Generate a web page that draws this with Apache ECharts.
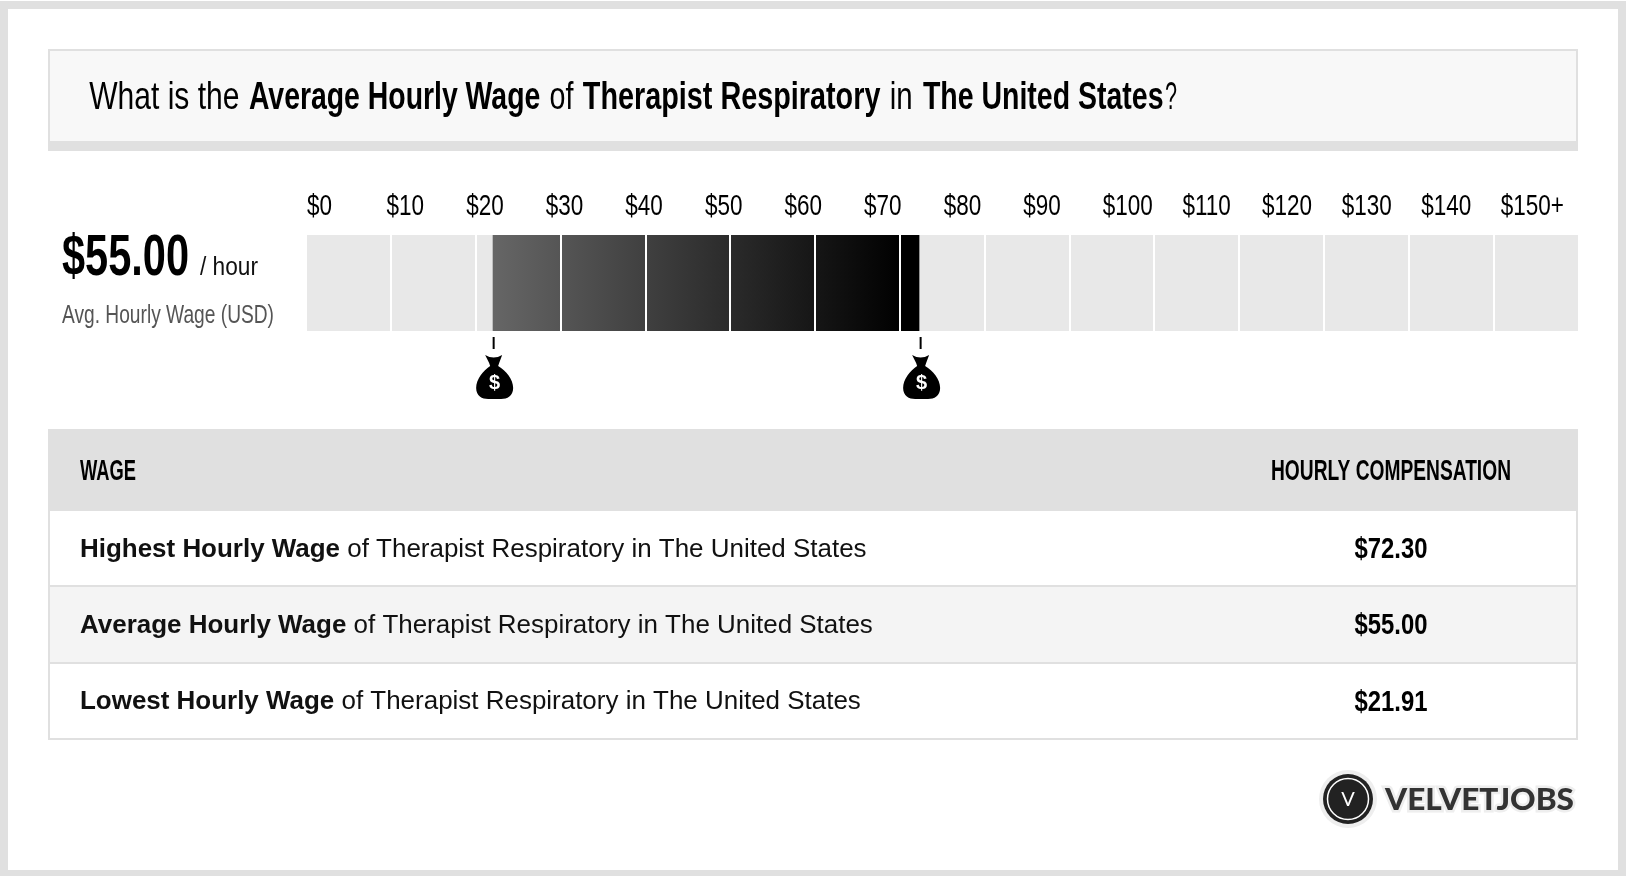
<!DOCTYPE html>
<html>
<head>
<meta charset="utf-8">
<style>html,body{margin:0;padding:0;background:#fff}#chart{width:1626px;height:876px}</style>
<script src="https://cdn.jsdelivr.net/npm/echarts@6/dist/echarts.min.js"></script>
</head>
<body>
<div id="chart"></div>
<script>
var tickLabels = ['$0','$10','$20','$30','$40','$50','$60','$70','$80','$90','$100','$110','$120','$130','$140','$150+'];
var axisMax = 150;
var lowWage = 21.91;
var avgWage = 55.00;
var highWage = 72.30;
var rowNames = ['Highest Hourly Wage','Average Hourly Wage','Lowest Hourly Wage'];
var rowValues = [highWage, avgWage, lowWage];
var rowTail = ' of Therapist Respiratory in The United States';
var titleRuns = ['What is the','Average Hourly Wage','of','Therapist Respiratory','in','The United States','?'];

var SANS = '"Liberation Sans",Arial,sans-serif';
var BAG = 'path://M9 0 Q17.5 5 26 0 L23 8 L22 11 C30 16 37 24 37 33 C37 41 31 44 25 44 L12 44 C6 44 0 41 0 33 C0 24 7 16 14 11 L13 8 Z';

var chart = echarts.init(document.getElementById('chart'), null, {renderer: 'canvas'});
var measure = document.createElement('canvas').getContext('2d');

function rect(x, y, w, h, fill, z) {
  return {type: 'rect', z: z || 0, silent: true, shape: {x: x, y: y, width: w, height: h}, style: {fill: fill}};
}
// no condensed face is installed, so condensed text is squeezed to the width it has in the picture
function label(x, y, text, font, fill, opt) {
  opt = opt || {};
  measure.font = font;
  var sx = opt.w ? opt.w / measure.measureText(text).width : (opt.sx || 1);
  return {
    type: 'text', x: x, y: y, z: 3, silent: true, scaleX: sx,
    style: {text: text, font: font, fill: fill, textAlign: opt.align || 'left', textVerticalAlign: 'middle',
      rich: opt.rich, stroke: opt.stroke, lineWidth: opt.lw}
  };
}

var N39 = '39px ' + SANS, B39 = 'bold 39px ' + SANS;
var graphics = [
  // outer frame
  rect(0, 1, 1626, 8, '#e0e0e0'), rect(0, 870, 1626, 6, '#e0e0e0'),
  rect(0, 1, 8, 875, '#e0e0e0'), rect(1618, 1, 8, 875, '#e0e0e0'),
  // title panel
  rect(48, 49, 1530, 102, '#e0e0e0'), rect(50, 51, 1526, 90, '#f8f8f8', 1),
  label(89.2, 98, titleRuns[0], N39, '#000', {w: 150.3}),
  label(248.9, 98, titleRuns[1], B39, '#000', {w: 291.4}),
  label(549.6, 98, titleRuns[2], N39, '#000', {w: 23.9}),
  label(582.8, 98, titleRuns[3], B39, '#000', {w: 297.6}),
  label(889.7, 98, titleRuns[4], N39, '#000', {w: 22.9}),
  label(922.9, 98, titleRuns[5], B39, '#000', {w: 240.6}),
  label(1165, 98, titleRuns[6], N39, '#000', {w: 12}),
  // headline figure
  label(62, 259, '$' + avgWage.toFixed(2), 'bold 57px ' + SANS, '#000', {w: 127}),
  label(200, 268, '/ hour', '25px ' + SANS, '#111', {w: 58}),
  label(62, 316, 'Avg. Hourly Wage (USD)', '26px ' + SANS, '#555', {w: 212}),
  // table
  rect(48, 429, 1530, 311, '#e0e0e0'),
  rect(50, 511, 1526, 74, '#fff', 1), rect(50, 587, 1526, 75, '#f4f4f4', 1), rect(50, 664, 1526, 74, '#fff', 1),
  label(80, 472, 'WAGE', 'bold 29px ' + SANS, '#000', {w: 56}),
  label(1391, 472, 'HOURLY COMPENSATION', 'bold 29px ' + SANS, '#000', {align: 'center', w: 240}),
  // logo
  {type: 'circle', z: 3, silent: true, shape: {cx: 1348, cy: 799, r: 29}, style: {fill: '#eee'}},
  {type: 'circle', z: 3, silent: true, shape: {cx: 1348, cy: 799, r: 25}, style: {fill: '#222'}},
  {type: 'circle', z: 3, silent: true, shape: {cx: 1348, cy: 799, r: 20.5}, style: {fill: 'none', stroke: '#fff', lineWidth: 1.5}},
  label(1348, 800, 'V', '20px Lato', '#fff', {align: 'center'}),
  label(1385, 800, 'VELVETJOBS', '900 31px Lato', '#333', {w: 189, stroke: '#eee', lw: 5})
];

rowNames.forEach(function (name, i) {
  var y = [550, 625.5, 702][i];
  graphics.push(label(80, y, '{b|' + name + '}{n|' + rowTail + '}', '25.96px ' + SANS, '#111', {
    rich: {
      b: {font: 'bold 25.96px ' + SANS, fill: '#111'},
      n: {font: '25.96px ' + SANS, fill: '#111'}
    }
  }));
  graphics.push(label(1391, [550, 626, 703][i], '$' + rowValues[i].toFixed(2), 'bold 30px ' + SANS, '#000', {align: 'center', sx: 0.795}));
});

var option = {
  animation: false,
  graphic: graphics,
  grid: [
    {left: 307, width: 1271, top: 235, height: 96},
    {left: 307, width: 1271, top: 337, height: 62},
    {left: 306, width: 1272.3, top: 235, height: 96}
  ],
  xAxis: [
    {type: 'value', gridIndex: 0, min: 0, max: axisMax, show: false},
    {
      // the printed scale has its own even spacing, one slot per label
      type: 'value', gridIndex: 0, position: 'top', min: 0, max: 15.97, interval: 1,
      axisLine: {show: false}, axisTick: {show: false}, splitLine: {show: false}, axisLabel: {show: false}
    },
    {type: 'value', gridIndex: 1, min: 0, max: axisMax, show: false},
    {
      // white gaps between the cells sit on top of the bar, on each cell's right edge
      type: 'value', gridIndex: 2, min: 0, max: axisMax, interval: 10, z: 5,
      axisLine: {show: false}, axisTick: {show: false}, axisLabel: {show: false},
      splitLine: {show: true, showMinLine: false, showMaxLine: false, lineStyle: {color: '#fff', width: 2}}
    }
  ],
  yAxis: [
    {type: 'category', gridIndex: 0, data: ['wage'], show: false},
    {type: 'value', gridIndex: 1, min: 0, max: 62, inverse: true, show: false},
    {type: 'value', gridIndex: 2, show: false}
  ],
  series: [
    {type: 'bar', stack: 'w', xAxisIndex: 0, yAxisIndex: 0, barWidth: '100%', data: [lowWage], itemStyle: {color: '#e8e8e8'}},
    {
      type: 'bar', stack: 'w', xAxisIndex: 0, yAxisIndex: 0, barWidth: '100%', data: [highWage - lowWage],
      itemStyle: {color: new echarts.graphic.LinearGradient(0, 0, 1, 0, [
        {offset: 0, color: '#666'}, {offset: 0.96, color: '#000'}, {offset: 1, color: '#000'}
      ])}
    },
    {type: 'bar', stack: 'w', xAxisIndex: 0, yAxisIndex: 0, barWidth: '100%', data: [axisMax - highWage], itemStyle: {color: '#e8e8e8'}},
    {
      type: 'scatter', xAxisIndex: 2, yAxisIndex: 1, symbol: 'rect', symbolSize: [2, 12], symbolOffset: [1, 0],
      data: [[lowWage, 6], [highWage, 6]], itemStyle: {color: '#000', opacity: 1}, silent: true, clip: false
    },
    {
      type: 'scatter', xAxisIndex: 2, yAxisIndex: 1, symbol: BAG, symbolSize: [37, 44], symbolKeepAspect: false, symbolOffset: [2, 0],
      data: [[lowWage, 40], [highWage, 40]], itemStyle: {color: '#000', opacity: 1}, silent: true, clip: false,
      label: {show: true, position: 'inside', formatter: '$', color: '#fff', fontSize: 20, fontWeight: 'bold', fontFamily: SANS, offset: [0, 6]}
    }
  ]
};
chart.setOption(option);

tickLabels.forEach(function (t, i) {
  graphics.push(label(chart.convertToPixel({xAxisIndex: 1}, i), 207, t, '29px ' + SANS, '#000', {sx: 0.775}));
});
chart.setOption({graphic: graphics});
</script>
</body>
</html>
